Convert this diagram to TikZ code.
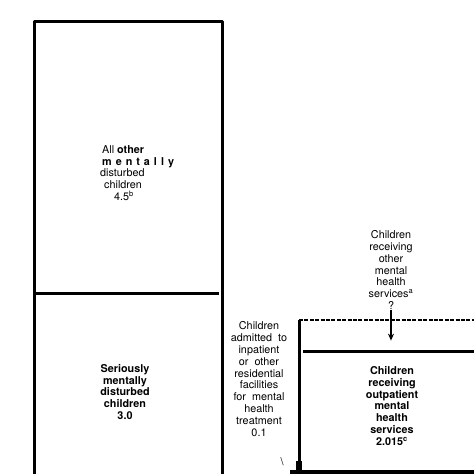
\documentclass[tikz,border=0pt]{standalone}
\usepackage{fontspec}
\setmainfont{TeX Gyre Heros}
\usetikzlibrary{positioning,arrows.meta}
\newcommand{\BoxRule}{3pt}

\tikzset{
	label text/.style={font=\fontsize{10.8}{11.8}\selectfont, align=center, inner sep=0pt},
	count text/.style={font=\bfseries\fontsize{10.8}{11.7}\selectfont, align=center, inner sep=0pt},
	box line/.style={line width=\BoxRule},
}

\begin{document}
\begin{tikzpicture}[x=1pt, y=-1pt]
		\useasboundingbox (0,0) rectangle (474,474);
		% left column
		\coordinate (l1) at (34,474);
		\coordinate (l2) at (34,21);
		\coordinate (l3) at (222,21);
		\coordinate (l4) at (222,474);
		\coordinate (d1) at (35,293);
		\coordinate (d2) at (219,293);
		\draw [box line, line join=round] (l1) -- (l2) -- (l3) -- (l4);
		\draw [box line] (d1) -- (d2);

		\node [label text, align=left, anchor=west] (other) at (100,173) {\hspace*{2pt}All \textbf{other}\\
			\hspace*{2pt}{\bfseries\spaceskip=4pt m e n t a l l y}\\
			disturbed\\
			\hspace*{4pt}children\\
			\hspace*{14pt}4.5\textsuperscript{b}};
		\node [count text] (serious) at (125,392) {Seriously\\mentally\\disturbed\\children\\3.0};

		% right column
		\coordinate (r1) at (299,472);
		\coordinate (r2) at (299,320);
		\coordinate (r3) at (474,320);
		\coordinate (s1) at (303,351);
		\coordinate (s2) at (474,351);
		\coordinate (b1) at (290,472);
		\coordinate (b2) at (474,472);
		\draw [box line] (r1) -- (r2);
		\draw [line width=2.6pt, dash pattern=on 4pt off 1.4pt] (r2) -- (r3);
		\draw [box line] (s1) -- (s2);
		\draw [line width=3.5pt] (b1) -- (b2);
		\fill (296,461) rectangle (302,470);

		\node [label text] (othersvc) at (391,270) {Children\\receiving\\other\\mental\\health\\services\textsuperscript{a}\\?};
		\coordinate [below=31pt of othersvc] (svctip);
		\draw [line width=1.2pt, -{Stealth[length=7pt,width=6pt]}] (othersvc.south) -- (svctip);

		\node [label text] (inpatient) at (259,379) {Children\\admitted\ \ to\\inpatient\\or\ \ other\\residential\\facilities\\for\ \ mental\\health\\treatment\\0.1};
		\node [label text] (tick) at (282,462) {\textbackslash};

		\node [count text] (outpatient) at (392,406) {Children\\receiving\\outpatient\\mental\\health\\services\\2.015\textsuperscript{c}};
	\end{tikzpicture}
\end{document}
